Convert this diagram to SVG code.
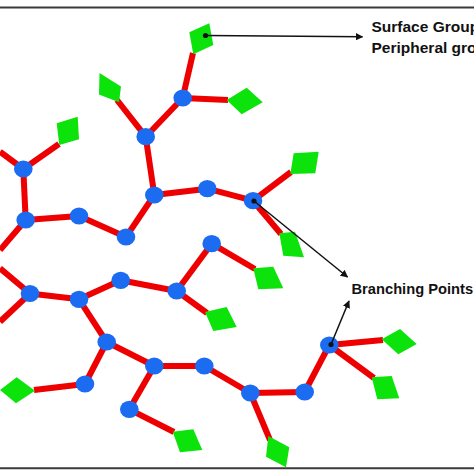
<svg xmlns="http://www.w3.org/2000/svg" width="474" height="474" viewBox="0 0 474 474">
<style>
.e{stroke:#ee0000;stroke-width:6;stroke-linecap:butt;fill:none}
.n{fill:#1c6cf2}
.d{fill:#0be30b}
.a{stroke:#111;stroke-width:1.5;fill:none}
.dot{fill:#111}
.t{font-family:"Liberation Sans",Arial,sans-serif;font-weight:bold;fill:#111}
.b{stroke:#3a3a3a;stroke-width:2}
</style>
<defs>
<marker id="ah" viewBox="0 0 10 10" refX="9" refY="5" markerWidth="5" markerHeight="5" orient="auto" markerUnits="strokeWidth">
<path d="M0,0 L10,5 L0,10 z" fill="#111"/>
</marker>
</defs>
<rect width="474" height="474" fill="#fff"/>
<line class="b" x1="0" y1="7.5" x2="474" y2="7.5"/>
<line class="b" x1="0" y1="468.3" x2="474" y2="468.3"/>
<g id="connectors">
<line class="e" x1="193" y1="53" x2="182.7" y2="98"/>
<line class="e" x1="182.7" y1="98" x2="228" y2="100"/>
<line class="e" x1="182.7" y1="98" x2="145.7" y2="136.7"/>
<line class="e" x1="117" y1="100" x2="145.7" y2="136.7"/>
<line class="e" x1="145.7" y1="136.7" x2="154.3" y2="195"/>
<line class="e" x1="154.3" y1="195" x2="207.3" y2="188.7"/>
<line class="e" x1="207.3" y1="188.7" x2="253" y2="200.7"/>
<line class="e" x1="253" y1="200.7" x2="291" y2="172"/>
<line class="e" x1="253" y1="200.7" x2="281" y2="234"/>
<line class="e" x1="154.3" y1="195" x2="126" y2="237"/>
<line class="e" x1="126" y1="237" x2="79" y2="216"/>
<line class="e" x1="79" y1="216" x2="25.7" y2="220"/>
<line class="e" x1="25.7" y1="220" x2="23.3" y2="169"/>
<line class="e" x1="23.3" y1="169" x2="59" y2="144"/>
<line class="e" x1="0" y1="151.7" x2="23.3" y2="169"/>
<line class="e" x1="25.7" y1="220" x2="0" y2="250"/>
<line class="e" x1="211.7" y1="243.7" x2="176.7" y2="291"/>
<line class="e" x1="211.7" y1="243.7" x2="255" y2="269"/>
<line class="e" x1="176.7" y1="291" x2="207" y2="313"/>
<line class="e" x1="176.7" y1="291" x2="120.7" y2="280.3"/>
<line class="e" x1="120.7" y1="280.3" x2="79" y2="299.3"/>
<line class="e" x1="79" y1="299.3" x2="30" y2="293.5"/>
<line class="e" x1="0" y1="268.3" x2="30" y2="293.5"/>
<line class="e" x1="30" y1="293.5" x2="0" y2="321.7"/>
<line class="e" x1="79" y1="299.3" x2="106.7" y2="342"/>
<line class="e" x1="106.7" y1="342" x2="154.3" y2="366"/>
<line class="e" x1="106.7" y1="342" x2="85" y2="384"/>
<line class="e" x1="85" y1="384" x2="34" y2="390"/>
<line class="e" x1="154.3" y1="366" x2="204.3" y2="366"/>
<line class="e" x1="154.3" y1="366" x2="129.3" y2="409.3"/>
<line class="e" x1="129.3" y1="409.3" x2="174" y2="432"/>
<line class="e" x1="204.3" y1="366" x2="250.3" y2="393"/>
<line class="e" x1="250.3" y1="393" x2="304.7" y2="392"/>
<line class="e" x1="250.3" y1="393" x2="270" y2="440"/>
<line class="e" x1="304.7" y1="392" x2="329.3" y2="345"/>
<line class="e" x1="329.3" y1="345" x2="383" y2="340"/>
<line class="e" x1="329.3" y1="345" x2="374" y2="378"/>
</g>
<g id="surface-groups">
<polygon class="d" points="189.3,32.3 209.3,23.3 213.3,45 193.3,54.3"/>
<polygon class="d" points="226.7,100 246.7,87.7 262.7,102.3 241.7,114.3"/>
<polygon class="d" points="99.5,73 121,86.5 119,102.3 99,94.5"/>
<polygon class="d" points="56.7,123.3 77.7,116.7 79,139.3 59.3,145"/>
<polygon class="d" points="293.7,153.3 318.7,151.7 315.3,173.3 290.3,174"/>
<polygon class="d" points="279.3,233.3 295,231.7 304,257.3 283.3,255.7"/>
<polygon class="d" points="253.3,268.3 273.3,266.7 283.3,288.3 258.3,289.3"/>
<polygon class="d" points="205,312 226.7,307 236.7,327 213.3,331"/>
<polygon class="d" points="0,390 16.7,377.3 35,390.7 16,403.3"/>
<polygon class="d" points="172.7,431.7 193.3,429.3 202.3,450 180,452.3"/>
<polygon class="d" points="268.3,436 289.3,447.3 286,467.3 266,456.7"/>
<polygon class="d" points="381.7,339.3 400,329 416.7,344 398.3,354.3"/>
<polygon class="d" points="371.7,377.3 391.7,376 399.3,398.3 377.3,399.3"/>
</g>
<g id="branch-nodes">
<ellipse class="n" cx="182.7" cy="98" rx="9.3" ry="8.6"/>
<ellipse class="n" cx="145.7" cy="136.7" rx="9.3" ry="8.6"/>
<ellipse class="n" cx="154.3" cy="195" rx="9.3" ry="8.6"/>
<ellipse class="n" cx="207.3" cy="188.7" rx="9.3" ry="8.6"/>
<ellipse class="n" cx="253" cy="200.7" rx="9.3" ry="8.6"/>
<ellipse class="n" cx="23.3" cy="169" rx="9.3" ry="8.6"/>
<ellipse class="n" cx="25.7" cy="220" rx="9.3" ry="8.6"/>
<ellipse class="n" cx="79" cy="216" rx="9.3" ry="8.6"/>
<ellipse class="n" cx="126" cy="237" rx="9.3" ry="8.6"/>
<ellipse class="n" cx="211.7" cy="243.7" rx="9.3" ry="8.6"/>
<ellipse class="n" cx="30" cy="293.5" rx="9.3" ry="8.6"/>
<ellipse class="n" cx="79" cy="299.3" rx="9.3" ry="8.6"/>
<ellipse class="n" cx="120.7" cy="280.3" rx="9.3" ry="8.6"/>
<ellipse class="n" cx="176.7" cy="291" rx="9.3" ry="8.6"/>
<ellipse class="n" cx="106.7" cy="342" rx="9.3" ry="8.6"/>
<ellipse class="n" cx="154.3" cy="366" rx="9.3" ry="8.6"/>
<ellipse class="n" cx="204.3" cy="366" rx="9.3" ry="8.6"/>
<ellipse class="n" cx="85" cy="384" rx="9.3" ry="8.6"/>
<ellipse class="n" cx="129.3" cy="409.3" rx="9.3" ry="8.6"/>
<ellipse class="n" cx="250.3" cy="393" rx="9.3" ry="8.6"/>
<ellipse class="n" cx="304.7" cy="392" rx="9.3" ry="8.6"/>
<ellipse class="n" cx="329.3" cy="345" rx="9.3" ry="8.6"/>
</g>
<g id="annotations">
<line class="a" x1="205.5" y1="35.5" x2="362.5" y2="36.8" marker-end="url(#ah)"/>
<line class="a" x1="254" y1="201" x2="347.5" y2="277" marker-end="url(#ah)"/>
<line class="a" x1="331" y1="344.5" x2="349" y2="301" marker-end="url(#ah)"/>
<circle class="dot" cx="205.5" cy="35.5" r="2.6"/>
<circle class="dot" cx="254" cy="201" r="2.6"/>
<circle class="dot" cx="331" cy="344.5" r="2.6"/>
</g>
<g id="labels">
<text class="t" x="371.5" y="31.7" font-size="15.5">Surface Group</text>
<text class="t" x="371.5" y="53.3" font-size="15.5">Peripheral group</text>
<text class="t" x="351.5" y="294.3" font-size="14.7">Branching Points</text>
</g>
</svg>
